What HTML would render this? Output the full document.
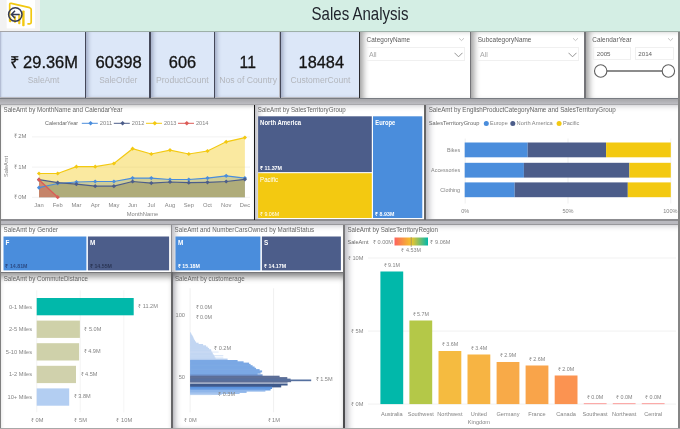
<!DOCTYPE html>
<html lang="en"><head><meta charset="utf-8"><title>Sales Analysis</title>
<style>
html,body{margin:0;padding:0}
body{width:680px;height:429px;overflow:hidden;background:#b9b9bf;position:relative;font-family:"Liberation Sans", sans-serif}
#wrap{position:absolute;left:0;top:0;width:680px;height:429px;overflow:hidden;background:#b9b9bf;filter:blur(0.4px)}
.topbar{position:absolute;left:0;top:0;width:680px;height:31px;background:#d4eee4}
.logo{position:absolute;left:0;top:0;width:40.2px;height:31px;background:#f2f2f2}
.logo svg{position:absolute;left:0;top:0}
.card{position:absolute;top:31.3px;height:66.2px;background:#dce7f8;box-shadow:inset 4px 0 4px -2px rgba(60,70,110,.4)}
.ov{position:absolute;font-family:"Liberation Sans", sans-serif}
.ln{position:absolute}
.slicer{position:absolute;top:31.5px;height:66px;background:#fff;box-shadow:inset 6px 1px 6px -3px rgba(0,0,0,.4)}
.sh{position:absolute;left:6.5px;top:4.2px;font-size:6.4px;color:#5a5a5a;line-height:8px;letter-spacing:.05px}
.chev{position:absolute;right:5.2px;top:5.6px}
.dd{position:absolute;left:6px;right:5px;top:15.4px;height:14.2px;border:.5px solid #f0f0f0;box-sizing:border-box;font-size:7px;color:#a6a6a6;line-height:14px;padding-left:1.8px}
.chev2{position:absolute;right:1.4px;top:4.2px}
.yb{position:absolute;top:15.4px;width:38.3px;height:13.5px;border:.5px solid #f0f0f0;box-sizing:border-box;font-size:6.2px;color:#606060;line-height:12.4px;padding-left:2.6px}
.sl{position:absolute;left:-1px;top:31.3px}
.panel{position:absolute;background:#fff;overflow:hidden}
.panel svg{position:absolute;left:0;top:0;font-family:"Liberation Sans", sans-serif}
.pl{box-shadow:inset 0 3px 4px -2px rgba(0,0,0,.25)}
.pt{box-shadow:inset 0 7px 6px -3px rgba(0,0,0,.4)}
.pm.pt{box-shadow:inset 6px 0 6px -3px rgba(30,30,50,.36),inset 0 7px 6px -3px rgba(0,0,0,.45)}
.pm,.pr{box-shadow:inset 6px 3px 6px -3px rgba(30,30,50,.32)}
</style></head>
<body>
<div id="wrap">
<div class="topbar"><div class="logo"><svg width="41" height="31" viewBox="0 0 41 31">
<rect x="6.7" y="0" width="28.3" height="28.4" fill="#fff"/>
<path d="M9.7 21.5 V4.6 Q9.7 3 11.3 3.3 L29.7 7.7 Q31.2 8.1 31.2 9.6 V22.2 Q31.2 23.8 29.7 23.8 H27.4" fill="none" stroke="#f2c811" stroke-width="1.7" stroke-linejoin="round"/>
<rect x="9.2" y="17" width="2.2" height="5.2" rx="0.8" fill="#f2c811"/>
<rect x="13.8" y="16" width="2.2" height="6.8" rx="0.8" fill="#f2c811"/>
<rect x="18.2" y="14" width="2.2" height="10.3" rx="0.8" fill="#f2c811"/>
<rect x="22.2" y="10.4" width="2.4" height="15.8" rx="0.8" fill="#f2c811"/>
<circle cx="15.3" cy="14.5" r="6.7" fill="rgba(255,255,255,0.1)" stroke="#363b54" stroke-width="1.5"/>
<path d="M19.6 14.5 H11.8 M15 10.8 L11.4 14.5 L15 18.2" fill="none" stroke="#363b54" stroke-width="1.5"/>
</svg></div><svg class="ov" style="left:280px;top:0" width="170" height="31" viewBox="280 0 170 31"><text x="311.6" y="19.8" font-size="18.2" fill="#20242c" textLength="96.8" lengthAdjust="spacingAndGlyphs">Sales Analysis</text></svg></div>
<div class="card" style="left:0px;width:85px;box-shadow:inset 1.5px 0 2px -1px rgba(60,70,110,.5)"></div>
<div class="card" style="left:86.3px;width:63px"></div>
<div class="card" style="left:150.6px;width:63.4px"></div>
<div class="card" style="left:215.3px;width:64.2px"></div>
<div class="card" style="left:280.8px;width:78px"></div>
<svg class="ov" style="left:0;top:31px" width="360" height="67" viewBox="0 31 360 67"><text x="9.6" y="67.5" font-size="16.6" fill="#151515" textLength="68.4" lengthAdjust="spacingAndGlyphs" stroke="#151515" stroke-width="0.3">₹ 29.36M</text><text x="95.6" y="67.5" font-size="16.6" fill="#151515" textLength="46.3" lengthAdjust="spacingAndGlyphs" stroke="#151515" stroke-width="0.3">60398</text><text x="168.8" y="67.5" font-size="16.6" fill="#151515" textLength="27.4" lengthAdjust="spacingAndGlyphs" stroke="#151515" stroke-width="0.3">606</text><text x="239.6" y="67.5" font-size="16.6" fill="#151515" textLength="16.3" lengthAdjust="spacingAndGlyphs" stroke="#151515" stroke-width="0.3">11</text><text x="298.6" y="67.5" font-size="16.6" fill="#151515" textLength="45.4" lengthAdjust="spacingAndGlyphs" stroke="#151515" stroke-width="0.3">18484</text><text x="27.8" y="82.7" font-size="8.9" fill="#b3b6bc" textLength="31.6" lengthAdjust="spacingAndGlyphs">SaleAmt</text><text x="99.3" y="82.7" font-size="8.9" fill="#b3b6bc" textLength="38" lengthAdjust="spacingAndGlyphs">SaleOrder</text><text x="156" y="82.7" font-size="8.9" fill="#b3b6bc" textLength="52.6" lengthAdjust="spacingAndGlyphs">ProductCount</text><text x="219.3" y="82.7" font-size="8.9" fill="#b3b6bc" textLength="57.8" lengthAdjust="spacingAndGlyphs">Nos of Country</text><text x="290.5" y="82.7" font-size="8.9" fill="#b3b6bc" textLength="59.8" lengthAdjust="spacingAndGlyphs">CustomerCount</text></svg>
<div class="slicer" style="left:360.1px;width:109.9px"><div class="sh">CategoryName</div><svg class="chev" width="7" height="5" viewBox="0 0 7 5"><path d="M1 1.2 L3.5 3.6 L6 1.2" fill="none" stroke="#b8b8b8" stroke-width="0.8"/></svg><div class="dd">All<svg class="chev2" width="9" height="6" viewBox="0 0 9 6"><path d="M0.5 0.8 L4.5 4.8 L8.5 0.8" fill="none" stroke="#888" stroke-width="0.9"/></svg></div></div>
<div class="slicer" style="left:471.3px;width:112.9px"><div class="sh">SubcategoryName</div><svg class="chev" width="7" height="5" viewBox="0 0 7 5"><path d="M1 1.2 L3.5 3.6 L6 1.2" fill="none" stroke="#b8b8b8" stroke-width="0.8"/></svg><div class="dd">All<svg class="chev2" width="9" height="6" viewBox="0 0 9 6"><path d="M0.5 0.8 L4.5 4.8 L8.5 0.8" fill="none" stroke="#888" stroke-width="0.9"/></svg></div></div>
<div class="slicer" style="left:585.8px;width:93px"><div class="sh">CalendarYear</div><svg class="chev" width="7" height="5" viewBox="0 0 7 5"><path d="M1 1.2 L3.5 3.6 L6 1.2" fill="none" stroke="#b8b8b8" stroke-width="0.8"/></svg><div class="yb" style="left:7.4px">2005</div><div class="yb" style="left:48.9px;width:39px">2014</div><svg class="sl" width="94" height="16" viewBox="0 0 94 16"><line x1="14" y1="8" x2="82" y2="8" stroke="#666" stroke-width="1.3"/><circle cx="15.7" cy="8" r="6.2" fill="#fff" stroke="#606060" stroke-width="1.1"/><circle cx="83.4" cy="8" r="6.2" fill="#fff" stroke="#606060" stroke-width="1.1"/></svg></div>
<div class="panel pl" style="left:1px;top:104.5px;width:252.8px;height:114.5px;"><svg width="252.8" height="114.5" viewBox="1 104.5 252.8 114.5"><text x="3.5" y="112" font-size="6.7" fill="#636363" textLength="119" lengthAdjust="spacingAndGlyphs">SaleAmt by MonthName and CalendarYear</text><text x="45" y="124.8" font-size="6.2" fill="#666" textLength="33" lengthAdjust="spacingAndGlyphs">CalendarYear</text><line x1="81.8" y1="122.8" x2="97.8" y2="122.8" stroke="#4a8ddc" stroke-width="1"/><path d="M88.3 122.8 L90.6 120.5 L92.9 122.8 L90.6 125.1 Z" fill="#4a8ddc"/><text x="99.8" y="124.8" font-size="6.2" fill="#848484" textLength="12.5" lengthAdjust="spacingAndGlyphs">2011</text><line x1="113.8" y1="122.8" x2="129.8" y2="122.8" stroke="#4c5d8a" stroke-width="1"/><path d="M120.3 122.8 L122.6 120.5 L124.9 122.8 L122.6 125.1 Z" fill="#4c5d8a"/><text x="131.8" y="124.8" font-size="6.2" fill="#848484" textLength="12.5" lengthAdjust="spacingAndGlyphs">2012</text><line x1="146" y1="122.8" x2="162" y2="122.8" stroke="#f3c911" stroke-width="1"/><path d="M152.5 122.8 L154.8 120.5 L157.1 122.8 L154.8 125.1 Z" fill="#f3c911"/><text x="164" y="124.8" font-size="6.2" fill="#848484" textLength="12.5" lengthAdjust="spacingAndGlyphs">2013</text><line x1="178" y1="122.8" x2="194" y2="122.8" stroke="#dc5b57" stroke-width="1"/><path d="M184.5 122.8 L186.8 120.5 L189.1 122.8 L186.8 125.1 Z" fill="#dc5b57"/><text x="196" y="124.8" font-size="6.2" fill="#848484" textLength="12.5" lengthAdjust="spacingAndGlyphs">2014</text><line x1="32" y1="136.4" x2="250" y2="136.4" stroke="#e8e8e8" stroke-width="0.6"/><text x="26.6" y="138.0" font-size="6" fill="#848484" text-anchor="end">₹ 2M</text><line x1="32" y1="166.6" x2="250" y2="166.6" stroke="#e8e8e8" stroke-width="0.6"/><text x="26.6" y="168.2" font-size="6" fill="#848484" text-anchor="end">₹ 1M</text><line x1="32" y1="196.8" x2="250" y2="196.8" stroke="#e8e8e8" stroke-width="0.6"/><text x="26.6" y="198.4" font-size="6" fill="#848484" text-anchor="end">₹ 0M</text><text x="0" y="0" font-size="5.6" fill="#848484" text-anchor="middle" transform="translate(8.5,166) rotate(-90)">SaleAmt</text><polygon points="39.0,196.7 39.0,187.2 57.7,183.0 76.4,181.5 95.2,181.0 113.9,181.0 132.6,177.6 151.3,177.6 170.0,179.0 188.8,179.0 207.5,177.6 226.2,175.3 244.9,177.6 244.9,196.7" fill="#4a8ddc" fill-opacity="0.4"/><polygon points="39.0,196.7 39.0,179.2 57.7,182.2 76.4,183.7 95.2,185.7 113.9,185.7 132.6,181.0 151.3,182.6 170.0,181.5 188.8,182.2 207.5,181.8 226.2,181.0 244.9,178.8 244.9,196.7" fill="#4c5d8a" fill-opacity="0.48"/><polygon points="39.0,196.7 39.0,173.0 57.7,173.0 76.4,166.2 95.2,166.2 113.9,163.0 132.6,148.2 151.3,153.5 170.0,149.7 188.8,153.5 207.5,150.5 226.2,141.3 244.9,137.1 244.9,196.7" fill="#f3c911" fill-opacity="0.4"/><polygon points="39.0,196.7 39.0,179.2 57.7,196.7 57.7,196.7" fill="#dc5b57" fill-opacity="0.5"/><polyline points="39.0,187.2 57.7,183.0 76.4,181.5 95.2,181.0 113.9,181.0 132.6,177.6 151.3,177.6 170.0,179.0 188.8,179.0 207.5,177.6 226.2,175.3 244.9,177.6" fill="none" stroke="#4a8ddc" stroke-width="1.2"/><path d="M36.9 187.2 L39.0 185.1 L41.1 187.2 L39.0 189.3 Z" fill="#4a8ddc"/><path d="M55.6 183.0 L57.7 180.9 L59.8 183.0 L57.7 185.1 Z" fill="#4a8ddc"/><path d="M74.3 181.5 L76.4 179.4 L78.5 181.5 L76.4 183.6 Z" fill="#4a8ddc"/><path d="M93.1 181.0 L95.2 178.9 L97.3 181.0 L95.2 183.1 Z" fill="#4a8ddc"/><path d="M111.8 181.0 L113.9 178.9 L116.0 181.0 L113.9 183.1 Z" fill="#4a8ddc"/><path d="M130.5 177.6 L132.6 175.5 L134.7 177.6 L132.6 179.7 Z" fill="#4a8ddc"/><path d="M149.2 177.6 L151.3 175.5 L153.4 177.6 L151.3 179.7 Z" fill="#4a8ddc"/><path d="M167.9 179.0 L170.0 176.9 L172.1 179.0 L170.0 181.1 Z" fill="#4a8ddc"/><path d="M186.7 179.0 L188.8 176.9 L190.9 179.0 L188.8 181.1 Z" fill="#4a8ddc"/><path d="M205.4 177.6 L207.5 175.5 L209.6 177.6 L207.5 179.7 Z" fill="#4a8ddc"/><path d="M224.1 175.3 L226.2 173.2 L228.3 175.3 L226.2 177.4 Z" fill="#4a8ddc"/><path d="M242.8 177.6 L244.9 175.5 L247.0 177.6 L244.9 179.7 Z" fill="#4a8ddc"/><polyline points="39.0,179.2 57.7,182.2 76.4,183.7 95.2,185.7 113.9,185.7 132.6,181.0 151.3,182.6 170.0,181.5 188.8,182.2 207.5,181.8 226.2,181.0 244.9,178.8" fill="none" stroke="#4c5d8a" stroke-width="1.2"/><path d="M36.9 179.2 L39.0 177.1 L41.1 179.2 L39.0 181.3 Z" fill="#4c5d8a"/><path d="M55.6 182.2 L57.7 180.1 L59.8 182.2 L57.7 184.3 Z" fill="#4c5d8a"/><path d="M74.3 183.7 L76.4 181.6 L78.5 183.7 L76.4 185.8 Z" fill="#4c5d8a"/><path d="M93.1 185.7 L95.2 183.6 L97.3 185.7 L95.2 187.8 Z" fill="#4c5d8a"/><path d="M111.8 185.7 L113.9 183.6 L116.0 185.7 L113.9 187.8 Z" fill="#4c5d8a"/><path d="M130.5 181.0 L132.6 178.9 L134.7 181.0 L132.6 183.1 Z" fill="#4c5d8a"/><path d="M149.2 182.6 L151.3 180.5 L153.4 182.6 L151.3 184.7 Z" fill="#4c5d8a"/><path d="M167.9 181.5 L170.0 179.4 L172.1 181.5 L170.0 183.6 Z" fill="#4c5d8a"/><path d="M186.7 182.2 L188.8 180.1 L190.9 182.2 L188.8 184.3 Z" fill="#4c5d8a"/><path d="M205.4 181.8 L207.5 179.7 L209.6 181.8 L207.5 183.9 Z" fill="#4c5d8a"/><path d="M224.1 181.0 L226.2 178.9 L228.3 181.0 L226.2 183.1 Z" fill="#4c5d8a"/><path d="M242.8 178.8 L244.9 176.7 L247.0 178.8 L244.9 180.9 Z" fill="#4c5d8a"/><polyline points="39.0,173.0 57.7,173.0 76.4,166.2 95.2,166.2 113.9,163.0 132.6,148.2 151.3,153.5 170.0,149.7 188.8,153.5 207.5,150.5 226.2,141.3 244.9,137.1" fill="none" stroke="#f3c911" stroke-width="1.2"/><path d="M36.9 173.0 L39.0 170.9 L41.1 173.0 L39.0 175.1 Z" fill="#f3c911"/><path d="M55.6 173.0 L57.7 170.9 L59.8 173.0 L57.7 175.1 Z" fill="#f3c911"/><path d="M74.3 166.2 L76.4 164.1 L78.5 166.2 L76.4 168.3 Z" fill="#f3c911"/><path d="M93.1 166.2 L95.2 164.1 L97.3 166.2 L95.2 168.3 Z" fill="#f3c911"/><path d="M111.8 163.0 L113.9 160.9 L116.0 163.0 L113.9 165.1 Z" fill="#f3c911"/><path d="M130.5 148.2 L132.6 146.1 L134.7 148.2 L132.6 150.3 Z" fill="#f3c911"/><path d="M149.2 153.5 L151.3 151.4 L153.4 153.5 L151.3 155.6 Z" fill="#f3c911"/><path d="M167.9 149.7 L170.0 147.6 L172.1 149.7 L170.0 151.8 Z" fill="#f3c911"/><path d="M186.7 153.5 L188.8 151.4 L190.9 153.5 L188.8 155.6 Z" fill="#f3c911"/><path d="M205.4 150.5 L207.5 148.4 L209.6 150.5 L207.5 152.6 Z" fill="#f3c911"/><path d="M224.1 141.3 L226.2 139.2 L228.3 141.3 L226.2 143.4 Z" fill="#f3c911"/><path d="M242.8 137.1 L244.9 135.0 L247.0 137.1 L244.9 139.2 Z" fill="#f3c911"/><polyline points="39.0,179.2 57.7,196.7" fill="none" stroke="#dc5b57" stroke-width="1.2"/><path d="M36.9 179.2 L39.0 177.1 L41.1 179.2 L39.0 181.3 Z" fill="#dc5b57"/><path d="M55.6 196.7 L57.7 194.6 L59.8 196.7 L57.7 198.8 Z" fill="#dc5b57"/><text x="39.0" y="206.7" font-size="5.8" fill="#848484" text-anchor="middle">Jan</text><text x="57.7" y="206.7" font-size="5.8" fill="#848484" text-anchor="middle">Feb</text><text x="76.4" y="206.7" font-size="5.8" fill="#848484" text-anchor="middle">Mar</text><text x="95.2" y="206.7" font-size="5.8" fill="#848484" text-anchor="middle">Apr</text><text x="113.9" y="206.7" font-size="5.8" fill="#848484" text-anchor="middle">May</text><text x="132.6" y="206.7" font-size="5.8" fill="#848484" text-anchor="middle">Jun</text><text x="151.3" y="206.7" font-size="5.8" fill="#848484" text-anchor="middle">Jul</text><text x="170.0" y="206.7" font-size="5.8" fill="#848484" text-anchor="middle">Aug</text><text x="188.8" y="206.7" font-size="5.8" fill="#848484" text-anchor="middle">Sep</text><text x="207.5" y="206.7" font-size="5.8" fill="#848484" text-anchor="middle">Oct</text><text x="226.2" y="206.7" font-size="5.8" fill="#848484" text-anchor="middle">Nov</text><text x="244.9" y="206.7" font-size="5.8" fill="#848484" text-anchor="middle">Dec</text><text x="142.5" y="215.8" font-size="5.8" fill="#848484" text-anchor="middle">MonthName</text></svg></div>
<div class="panel pm" style="left:255.2px;top:104.5px;width:168.8px;height:114.5px;"><svg width="168.8" height="114.5" viewBox="255.2 104.5 168.8 114.5"><text x="258" y="112" font-size="6.7" fill="#636363" textLength="88" lengthAdjust="spacingAndGlyphs">SaleAmt by SalesTerritoryGroup</text><rect x="258.3" y="115.8" width="113.7" height="55.8" fill="#4c5d8a"/><rect x="258.3" y="172.7" width="113.7" height="44.8" fill="#f3c911"/><rect x="373.2" y="115.8" width="49.3" height="101.7" fill="#4a8ddc"/><text x="260.3" y="124.9" font-size="6.6" fill="#fff" textLength="41" lengthAdjust="spacingAndGlyphs" font-weight="bold">North America</text><text x="260.3" y="169.7" font-size="5.6" fill="#fff" textLength="22" lengthAdjust="spacingAndGlyphs" font-weight="bold">₹ 11.37M</text><text x="260.3" y="181.4" font-size="6.6" fill="#fff" textLength="18" lengthAdjust="spacingAndGlyphs">Pacific</text><text x="260.3" y="215.1" font-size="5.6" fill="#fff" textLength="19" lengthAdjust="spacingAndGlyphs">₹ 9.06M</text><text x="375.5" y="124.9" font-size="6.6" fill="#fff" textLength="20" lengthAdjust="spacingAndGlyphs" font-weight="bold">Europe</text><text x="375.5" y="215.1" font-size="5.6" fill="#fff" textLength="19" lengthAdjust="spacingAndGlyphs" font-weight="bold">₹ 8.93M</text></svg></div>
<div class="panel pr" style="left:425.5px;top:104.5px;width:253.3px;height:114.5px;"><svg width="253.3" height="114.5" viewBox="425.5 104.5 253.3 114.5"><text x="428.2" y="112" font-size="6.7" fill="#636363" textLength="187" lengthAdjust="spacingAndGlyphs">SaleAmt by EnglishProductCategoryName and SalesTerritoryGroup</text><text x="428.3" y="124.9" font-size="6" fill="#666" textLength="50.7" lengthAdjust="spacingAndGlyphs">SalesTerritoryGroup</text><circle cx="485.8" cy="122.9" r="2.5" fill="#4a8ddc"/><text x="489.6" y="124.9" font-size="6" fill="#848484" textLength="17.6" lengthAdjust="spacingAndGlyphs">Europe</text><circle cx="512.3" cy="122.9" r="2.5" fill="#4c5d8a"/><text x="516.0999999999999" y="124.9" font-size="6" fill="#848484" textLength="36.2" lengthAdjust="spacingAndGlyphs">North America</text><circle cx="558.6" cy="122.9" r="2.5" fill="#f3c911"/><text x="562.4" y="124.9" font-size="6" fill="#848484" textLength="16.5" lengthAdjust="spacingAndGlyphs">Pacific</text><line x1="464.7" y1="138" x2="464.7" y2="203" stroke="#e6e6e6" stroke-width="0.6"/><line x1="567.5" y1="138" x2="567.5" y2="203" stroke="#e6e6e6" stroke-width="0.6"/><line x1="670.3" y1="138" x2="670.3" y2="203" stroke="#e6e6e6" stroke-width="0.6"/><rect x="464.2" y="142" width="63.0" height="14.8" fill="#4a8ddc"/><rect x="527.2" y="142" width="78.4" height="14.8" fill="#4c5d8a"/><rect x="605.6" y="142" width="64.7" height="14.8" fill="#f3c911"/><text x="459.6" y="151.4" font-size="5.4" fill="#848484" text-anchor="end">Bikes</text><rect x="464.2" y="162.3" width="59.2" height="14.8" fill="#4a8ddc"/><rect x="523.4" y="162.3" width="105.5" height="14.8" fill="#4c5d8a"/><rect x="628.9" y="162.3" width="41.4" height="14.8" fill="#f3c911"/><text x="459.6" y="171.70000000000002" font-size="5.4" fill="#848484" text-anchor="end">Accessories</text><rect x="464.2" y="181.9" width="50.0" height="14.8" fill="#4a8ddc"/><rect x="514.2" y="181.9" width="113.1" height="14.8" fill="#4c5d8a"/><rect x="627.3" y="181.9" width="43.0" height="14.8" fill="#f3c911"/><text x="459.6" y="191.3" font-size="5.4" fill="#848484" text-anchor="end">Clothing</text><text x="464.7" y="212.8" font-size="5.6" fill="#848484" text-anchor="middle">0%</text><text x="567.5" y="212.8" font-size="5.6" fill="#848484" text-anchor="middle">50%</text><text x="677" y="212.8" font-size="5.6" fill="#848484" text-anchor="end">100%</text></svg></div>
<div class="panel pl" style="left:1px;top:224.5px;width:170px;height:47.1px;"><svg width="170" height="47.1" viewBox="1 224.5 170 47.1"><text x="3.5" y="231.4" font-size="6.6" fill="#636363" textLength="54.5" lengthAdjust="spacingAndGlyphs">SaleAmt by Gender</text><rect x="3.5" y="236" width="82.9" height="33.9" fill="#4a8ddc"/><rect x="87.9" y="236" width="81.2" height="33.9" fill="#4c5d8a"/><text x="5.5" y="244.5" font-size="6.4" fill="#fff" font-weight="bold">F</text><text x="5.5" y="267.8" font-size="5.3" fill="#2c4c86" textLength="22" lengthAdjust="spacingAndGlyphs" font-weight="bold">₹ 14.81M</text><text x="90" y="244.5" font-size="6.4" fill="#fff" font-weight="bold">M</text><text x="90" y="267.8" font-size="5.3" fill="#2b3656" textLength="22" lengthAdjust="spacingAndGlyphs" font-weight="bold">₹ 14.55M</text></svg></div>
<div class="panel pm" style="left:172.4px;top:224.5px;width:170.6px;height:47.1px;"><svg width="170.6" height="47.1" viewBox="172.4 224.5 170.6 47.1"><text x="175" y="231.4" font-size="6.6" fill="#636363" textLength="139.5" lengthAdjust="spacingAndGlyphs">SaleAmt and NumberCarsOwned by MaritalStatus</text><rect x="175.9" y="236" width="84.9" height="33.9" fill="#4a8ddc"/><rect x="262.3" y="236" width="79" height="33.9" fill="#4c5d8a"/><text x="178.3" y="244.5" font-size="6.4" fill="#fff" font-weight="bold">M</text><text x="178.3" y="267.8" font-size="5.4" fill="#fff" textLength="22" lengthAdjust="spacingAndGlyphs" font-weight="bold">₹ 15.18M</text><text x="264.5" y="244.5" font-size="6.4" fill="#fff" font-weight="bold">S</text><text x="264.5" y="267.8" font-size="5.4" fill="#fff" textLength="22" lengthAdjust="spacingAndGlyphs" font-weight="bold">₹ 14.17M</text></svg></div>
<div class="panel pl pt" style="left:1px;top:272.7px;width:170px;height:155.5px;"><svg width="170" height="155.5" viewBox="1 272.7 170 155.5"><text x="3.7" y="280.5" font-size="6.6" fill="#636363" textLength="84.3" lengthAdjust="spacingAndGlyphs">SaleAmt by CommuteDistance</text><line x1="36.7" y1="290" x2="36.7" y2="412" stroke="#ececec" stroke-width="0.6"/><line x1="80.2" y1="290" x2="80.2" y2="412" stroke="#ececec" stroke-width="0.6"/><line x1="123.8" y1="290" x2="123.8" y2="412" stroke="#ececec" stroke-width="0.6"/><rect x="36.7" y="297.7" width="97.0" height="17.3" fill="#01b8aa"/><text x="32" y="308.3" font-size="5.7" fill="#848484" text-anchor="end">0-1 Miles</text><text x="138.2" y="307.7" font-size="5.6" fill="#848484">₹ 11.2M</text><rect x="36.7" y="320.3" width="43.2" height="17.3" fill="#cfd1a9"/><text x="32" y="330.90000000000003" font-size="5.7" fill="#848484" text-anchor="end">2-5 Miles</text><text x="84.4" y="330.3" font-size="5.6" fill="#848484">₹ 5.0M</text><rect x="36.7" y="342.9" width="42.4" height="17.3" fill="#cfd1aa"/><text x="32" y="353.5" font-size="5.7" fill="#848484" text-anchor="end">5-10 Miles</text><text x="83.6" y="352.9" font-size="5.6" fill="#848484">₹ 4.9M</text><rect x="36.7" y="365.5" width="39.3" height="17.3" fill="#d0d1ac"/><text x="32" y="376.1" font-size="5.7" fill="#848484" text-anchor="end">1-2 Miles</text><text x="80.5" y="375.5" font-size="5.6" fill="#848484">₹ 4.5M</text><rect x="36.7" y="388.1" width="32.5" height="17.3" fill="#b3cef2"/><text x="32" y="398.70000000000005" font-size="5.7" fill="#848484" text-anchor="end">10+ Miles</text><text x="73.7" y="398.1" font-size="5.6" fill="#848484">₹ 3.8M</text><text x="37.2" y="421.9" font-size="5.7" fill="#848484" text-anchor="middle">₹ 0M</text><text x="80.7" y="421.9" font-size="5.7" fill="#848484" text-anchor="middle">₹ 5M</text><text x="124.3" y="421.9" font-size="5.7" fill="#848484" text-anchor="middle">₹ 10M</text></svg></div>
<div class="panel pm pt" style="left:172.4px;top:272.7px;width:170.6px;height:155.5px;"><svg width="170.6" height="155.5" viewBox="172.4 272.7 170.6 155.5"><text x="175.3" y="280.5" font-size="6.6" fill="#636363" textLength="69.8" lengthAdjust="spacingAndGlyphs">SaleAmt by customerage</text><line x1="190.5" y1="288" x2="190.5" y2="412" stroke="#e4e4e4" stroke-width="0.6"/><line x1="274" y1="288" x2="274" y2="412" stroke="#e4e4e4" stroke-width="0.6"/><text x="185.4" y="316.8" font-size="5.7" fill="#848484" text-anchor="end">100</text><text x="185.4" y="379" font-size="5.7" fill="#848484" text-anchor="end">50</text><text x="190.8" y="421.9" font-size="5.7" fill="#848484" text-anchor="middle">₹ 0M</text><text x="274.2" y="421.9" font-size="5.7" fill="#848484" text-anchor="middle">₹ 1M</text><rect x="190.5" y="332" width="0.8" height="2.0" fill="#c2d6f2"/><rect x="190.5" y="333.3" width="1.5" height="2.0" fill="#c2d6f2"/><rect x="190.5" y="334.6" width="2.3" height="2.0" fill="#c2d6f2"/><rect x="190.5" y="335.9" width="3.0" height="2.0" fill="#c2d6f2"/><rect x="190.5" y="337.2" width="3.6" height="2.0" fill="#c2d6f2"/><rect x="190.5" y="338.5" width="4.2" height="2.0" fill="#c2d6f2"/><rect x="190.5" y="339.8" width="4.9" height="2.0" fill="#c2d6f2"/><rect x="190.5" y="341.1" width="6.0" height="2.0" fill="#c2d6f2"/><rect x="190.5" y="342.4" width="8.5" height="2.0" fill="#c2d6f2"/><rect x="190.5" y="343.7" width="13.0" height="2.0" fill="#c2d6f2"/><rect x="190.5" y="345" width="16.0" height="2.0" fill="#c2d6f2"/><rect x="190.5" y="346.3" width="17.7" height="2.0" fill="#c2d6f2"/><rect x="190.5" y="347.6" width="19.0" height="2.0" fill="#c2d6f2"/><rect x="190.5" y="348.9" width="21.0" height="2.0" fill="#c2d6f2"/><rect x="190.5" y="350.2" width="21.3" height="1.8" fill="#c2d6f2"/><rect x="190.5" y="351.3" width="22.0" height="1.7" fill="#c2d6f2"/><rect x="190.5" y="352.3" width="22.7" height="2.5" fill="#c2d6f2"/><rect x="190.5" y="354.1" width="23.7" height="1.6" fill="#c2d6f2"/><rect x="190.5" y="355" width="24.1" height="1.7" fill="#c2d6f2"/><rect x="190.5" y="356" width="24.7" height="1.9" fill="#c2d6f2"/><rect x="190.5" y="357.2" width="25.5" height="1.8" fill="#c2d6f2"/><rect x="190.5" y="358.3" width="37.5" height="2.1" fill="#b3ccef"/><rect x="190.5" y="359.7" width="47.5" height="2.0" fill="#7ba8e4"/><rect x="190.5" y="361" width="53.5" height="2.0" fill="#7ba8e4"/><rect x="190.5" y="362.3" width="59.0" height="2.0" fill="#7ba8e4"/><rect x="190.5" y="363.6" width="60.5" height="2.0" fill="#7ba8e4"/><rect x="190.5" y="364.9" width="62.5" height="2.0" fill="#7ba8e4"/><rect x="190.5" y="366.2" width="64.5" height="2.0" fill="#7ba8e4"/><rect x="190.5" y="367.5" width="66.0" height="2.0" fill="#7ba8e4"/><rect x="190.5" y="368.8" width="69.5" height="2.0" fill="#7ba8e4"/><rect x="190.5" y="370.1" width="72.0" height="2.0" fill="#7ba8e4"/><rect x="190.5" y="371.4" width="70.5" height="2.0" fill="#7ba8e4"/><rect x="190.5" y="372.7" width="67.5" height="2.0" fill="#7ba8e4"/><rect x="190.5" y="374" width="72.5" height="2.1" fill="#7094cf"/><rect x="190.5" y="375.4" width="89.5" height="2.1" fill="#5c6e97"/><rect x="190.5" y="376.8" width="97.2" height="2.2" fill="#5c6e97"/><rect x="190.5" y="378.3" width="100.5" height="1.6" fill="#5a6f9c"/><rect x="190.5" y="379.2" width="121.1" height="1.7" fill="#55709f"/><rect x="190.5" y="380.2" width="101.0" height="1.7" fill="#5c6e97"/><rect x="190.5" y="381.2" width="97.5" height="1.1" fill="#5c6e97"/><rect x="190.5" y="382.3" width="0.0" height="1.6" fill="#fff"/><rect x="190.5" y="383.2" width="97.5" height="2.0" fill="#3f5a8b"/><rect x="190.5" y="384.5" width="91.1" height="2.6" fill="#3f5a8b"/><rect x="190.5" y="386.4" width="82.0" height="2.3" fill="#5a93de"/><rect x="190.5" y="388" width="80.5" height="2.2" fill="#6a9de2"/><rect x="190.5" y="389.5" width="75.3" height="1.8" fill="#8fb6ea"/><rect x="190.5" y="390.6" width="56.5" height="2.0" fill="#8fb6ea"/><rect x="190.5" y="391.9" width="49.5" height="1.8" fill="#9dbfec"/><rect x="190.5" y="393" width="31.5" height="1.6" fill="#a9c7ef"/><rect x="190.5" y="393.9" width="21.5" height="0.9" fill="#b7d0f1"/><rect x="190.5" y="351.4" width="28.5" height="0.7" fill="#cfdff5"/><rect x="190.5" y="355.1" width="33.2" height="0.8" fill="#c6d9f4"/><rect x="190.5" y="357.3" width="33.2" height="0.8" fill="#c6d9f4"/><text x="196" y="308.3" font-size="5.6" fill="#848484" textLength="16.5" lengthAdjust="spacingAndGlyphs">₹ 0.0M</text><text x="196" y="318.6" font-size="5.6" fill="#848484" textLength="16.5" lengthAdjust="spacingAndGlyphs">₹ 0.0M</text><text x="214.5" y="350" font-size="5.6" fill="#848484" textLength="17" lengthAdjust="spacingAndGlyphs">₹ 0.2M</text><text x="316" y="381" font-size="5.6" fill="#848484" textLength="17" lengthAdjust="spacingAndGlyphs">₹ 1.5M</text><text x="218.5" y="396" font-size="5.6" fill="#848484" textLength="17" lengthAdjust="spacingAndGlyphs">₹ 0.3M</text></svg></div>
<div class="panel pr" style="left:345px;top:224.5px;width:333.8px;height:203.7px;"><svg width="333.8" height="203.7" viewBox="345 224.5 333.8 203.7"><defs><linearGradient id="g"><stop offset="0" stop-color="#fd625e"/><stop offset="0.5" stop-color="#f3c52a"/><stop offset="1" stop-color="#01b8aa"/></linearGradient></defs><text x="347.5" y="231.6" font-size="6.6" fill="#636363" textLength="90.5" lengthAdjust="spacingAndGlyphs">SaleAmt by SalesTerritoryRegion</text><text x="347.5" y="243.3" font-size="5.6" fill="#666" textLength="21" lengthAdjust="spacingAndGlyphs">SaleAmt</text><text x="373" y="243.3" font-size="5.6" fill="#848484" textLength="20" lengthAdjust="spacingAndGlyphs">₹ 0.00M</text><text x="430.5" y="243.3" font-size="5.6" fill="#848484" textLength="20" lengthAdjust="spacingAndGlyphs">₹ 9.06M</text><rect x="394.5" y="237" width="33.5" height="8" fill="url(#g)"/><line x1="411.2" y1="236.5" x2="411.2" y2="246.5" stroke="#777" stroke-width="0.6"/><text x="411.2" y="251.3" font-size="5.4" fill="#848484" text-anchor="middle" textLength="19.5" lengthAdjust="spacingAndGlyphs">₹ 4.53M</text><line x1="368" y1="257.5" x2="676" y2="257.5" stroke="#e8e8e8" stroke-width="0.6"/><text x="363.5" y="259.7" font-size="5.7" fill="#848484" text-anchor="end">₹ 10M</text><line x1="368" y1="330.6" x2="676" y2="330.6" stroke="#e8e8e8" stroke-width="0.6"/><text x="363.5" y="332.8" font-size="5.7" fill="#848484" text-anchor="end">₹ 5M</text><line x1="368" y1="403.6" x2="676" y2="403.6" stroke="#e8e8e8" stroke-width="0.6"/><text x="363.5" y="405.8" font-size="5.7" fill="#848484" text-anchor="end">₹ 0M</text><rect x="380.4" y="271" width="22.8" height="132.6" fill="#01b8aa"/><text x="391.8" y="266.3" font-size="5.4" fill="#848484" text-anchor="middle">₹ 9.1M</text><text x="391.8" y="415.3" font-size="5.6" fill="#848484" text-anchor="middle">Australia</text><rect x="409.4" y="320" width="22.8" height="83.6" fill="#b4c848"/><text x="420.8" y="315.3" font-size="5.4" fill="#848484" text-anchor="middle">₹ 5.7M</text><text x="420.8" y="415.3" font-size="5.6" fill="#848484" text-anchor="middle">Southwest</text><rect x="438.5" y="350.5" width="22.8" height="53.1" fill="#f5bb40"/><text x="449.9" y="345.8" font-size="5.4" fill="#848484" text-anchor="middle">₹ 3.6M</text><text x="449.9" y="415.3" font-size="5.6" fill="#848484" text-anchor="middle">Northwest</text><rect x="467.5" y="354" width="22.8" height="49.6" fill="#f7b443"/><text x="478.9" y="349.3" font-size="5.4" fill="#848484" text-anchor="middle">₹ 3.4M</text><text x="478.9" y="415.3" font-size="5.6" fill="#848484" text-anchor="middle">United</text><rect x="496.6" y="361.5" width="22.8" height="42.1" fill="#f8aa48"/><text x="508.0" y="356.8" font-size="5.4" fill="#848484" text-anchor="middle">₹ 2.9M</text><text x="508.0" y="415.3" font-size="5.6" fill="#848484" text-anchor="middle">Germany</text><rect x="525.6" y="365" width="22.8" height="38.6" fill="#f9a44a"/><text x="537.0" y="360.3" font-size="5.4" fill="#848484" text-anchor="middle">₹ 2.6M</text><text x="537.0" y="415.3" font-size="5.6" fill="#848484" text-anchor="middle">France</text><rect x="554.7" y="375" width="22.8" height="28.6" fill="#fb9351"/><text x="566.1" y="370.3" font-size="5.4" fill="#848484" text-anchor="middle">₹ 2.0M</text><text x="566.1" y="415.3" font-size="5.6" fill="#848484" text-anchor="middle">Canada</text><rect x="583.8" y="403" width="22.8" height="0.6" fill="#fd625e"/><text x="595.1" y="398.3" font-size="5.4" fill="#848484" text-anchor="middle">₹ 0.0M</text><text x="595.1" y="415.3" font-size="5.6" fill="#848484" text-anchor="middle">Southeast</text><rect x="612.8" y="403" width="22.8" height="0.6" fill="#fd625e"/><text x="624.2" y="398.3" font-size="5.4" fill="#848484" text-anchor="middle">₹ 0.0M</text><text x="624.2" y="415.3" font-size="5.6" fill="#848484" text-anchor="middle">Northeast</text><rect x="641.8" y="403" width="22.8" height="0.6" fill="#fd625e"/><text x="653.2" y="398.3" font-size="5.4" fill="#848484" text-anchor="middle">₹ 0.0M</text><text x="653.2" y="415.3" font-size="5.6" fill="#848484" text-anchor="middle">Central</text><text x="478.9" y="423.3" font-size="5.6" fill="#848484" text-anchor="middle">Kingdom</text></svg></div>
<div class="ln" style="left:85.15px;top:31.5px;width:1.1px;height:66.5px;background:#454859"></div>
<div class="ln" style="left:149.45000000000002px;top:31.5px;width:1.1px;height:66.5px;background:#454859"></div>
<div class="ln" style="left:214.15px;top:31.5px;width:1.1px;height:66.5px;background:#454859"></div>
<div class="ln" style="left:279.65px;top:31.5px;width:1.1px;height:66.5px;background:#454859"></div>
<div class="ln" style="left:358.8px;top:31.5px;width:1.3px;height:66.5px;background:#2a2a2e"></div>
<div class="ln" style="left:470px;top:31.5px;width:1.3px;height:66.5px;background:#747478"></div>
<div class="ln" style="left:584.3px;top:31.5px;width:1.4px;height:66.5px;background:#747478"></div>
<div class="ln" style="left:0px;top:30.6px;width:40.2px;height:1.1px;background:#a4a4a6"></div>
<div class="ln" style="left:40.2px;top:30.8px;width:640px;height:1px;background:#9db0a8"></div>
<div class="ln" style="left:0px;top:97.5px;width:680px;height:1.3px;background:#787c82"></div>
<div class="ln" style="left:0px;top:98.8px;width:680px;height:5.4px;background:linear-gradient(#a6a6aa,#bdbdc2)"></div>
<div class="ln" style="left:0px;top:103.9px;width:680px;height:0.6px;background:#a8a8ac"></div>
<div class="ln" style="left:0px;top:219px;width:680px;height:1.6px;background:#8c8c90"></div>
<div class="ln" style="left:0px;top:223.7px;width:680px;height:0.9px;background:#98989c"></div>
<div class="ln" style="left:0px;top:271.6px;width:345px;height:1.1px;background:#77777a"></div>
<div class="ln" style="left:0px;top:104.5px;width:1px;height:324.5px;background:#808080"></div>
<div class="ln" style="left:678.3px;top:31.5px;width:1.7px;height:397.5px;background:#858585"></div>
<div class="ln" style="left:253.8px;top:104.5px;width:1.4px;height:115px;background:#151515"></div>
<div class="ln" style="left:424px;top:104.5px;width:1.5px;height:115px;background:#666"></div>
<div class="ln" style="left:171px;top:224.5px;width:1.3px;height:47.5px;background:#8e8e92"></div>
<div class="ln" style="left:171px;top:272px;width:1.5px;height:157px;background:#666668"></div>
<div class="ln" style="left:343.3px;top:224.5px;width:1.7px;height:204.5px;background:linear-gradient(#7c7c7e,#6a6a6c 25%,#4a4a4c)"></div>
<div class="ln" style="left:0px;top:427.8px;width:680px;height:1.2px;background:#a8a8a8"></div>
</div>
</body></html>
